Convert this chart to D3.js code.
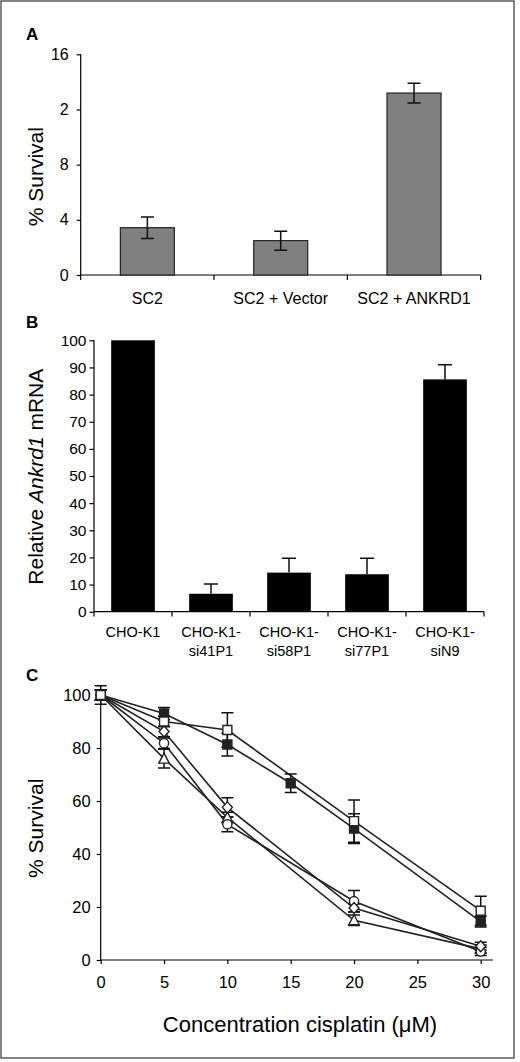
<!DOCTYPE html>
<html>
<head>
<meta charset="utf-8">
<style>
body { margin: 0; background: #fff; }
svg { display: block; font-family: "Liberation Sans", Arial, sans-serif; }
.axis path, .axis line { stroke: #000; stroke-width: 1.2; }
.axis text { fill: #000; }
</style>
</head>
<body>
<svg id="fig" width="520" height="1062"></svg>
<script src="https://d3js.org/d3.v7.min.js"></script>
<script>

// panel A
var survCats = ["SC2", "SC2 + Vector", "SC2 + ANKRD1"];
var survVals = [3.43, 2.49, 13.19];
var survErr = [0.78, 0.69, 0.72];
var survTicks = [0, 4, 8, 12, 16];
var survTickLabels = ["0", "4", "8", "2", "16"];

// panel B
var mrnaCats = ["CHO-K1", "CHO-K1-\nsi41P1", "CHO-K1-\nsi58P1", "CHO-K1-\nsi77P1", "CHO-K1-\nsiN9"];
var mrnaVals = [100, 6.6, 14.4, 13.8, 85.6];
var mrnaErr = [0, 3.6, 5.3, 5.9, 5.4];
var mrnaTicks = [0, 10, 20, 30, 40, 50, 60, 70, 80, 90, 100];

// panel C
var doses = [0, 5, 10, 15, 20, 30];
var doseTicks = [0, 5, 10, 15, 20, 25, 30];
var pctTicks = [0, 20, 40, 60, 80, 100];
var filledSq = [100, 93, 81.3, 66.7, 49.6, 14.5];
var filledSqErr = [2, 2.3, 4.3, 3.5, 5.6, 2];
var openSq = [100, 90, 86.8, null, 52.4, 18.6];
var openSqErr = [3.5, 2, 6.5, null, 8, 5.5];
var diamond = [100, 86.2, 57.6, null, 19.6, 5.2];
var diamondErr = [2, 2, 3.6, null, 1.5, 1.5];
var circle = [100, 81.8, 51.2, null, 22.2, 3.2];
var circleErr = [2, 2, 2.8, null, 4, 1.5];
var triangle = [100, 76, 53.8, null, 15, 4.2];
var triangleErr = [2, 3.5, 2, null, 2, 1.5];

var svg = d3.select("#fig");

svg.append("rect")
    .attr("x", 1).attr("y", 1)
    .attr("width", 513).attr("height", 1057)
    .attr("fill", "#fff")
    .attr("stroke", "#333")
    .attr("stroke-width", 1.2);

function panelLetter(t, y) {
  svg.append("text")
      .attr("x", 26).attr("y", y)
      .attr("font-size", 17)
      .attr("font-weight", "bold")
      .text(t);
}

function yTitle(cy, parts) {
  var t = svg.append("text")
      .attr("transform", "translate(43," + cy + ") rotate(-90)")
      .attr("text-anchor", "middle")
      .attr("font-size", 21);
  parts.forEach(function(p) {
    t.append("tspan").attr("font-style", p[1] ? "italic" : "normal").text(p[0]);
  });
}

// ---------- A ----------
panelLetter("A", 40);

var xA = d3.scaleBand().domain(survCats).range([80.7, 480.7]);
var yA = d3.scaleLinear().domain([0, 16]).range([275, 54.3]);

var gA = svg.append("g");

gA.append("g").attr("class", "axis")
    .attr("transform", "translate(80.7,0)")
    .call(d3.axisLeft(yA).tickValues(survTicks).tickSize(4).tickPadding(8)
      .tickFormat(function(d, i) { return survTickLabels[i]; }))
    .call(function(g) { g.selectAll("text").attr("font-size", 16); g.select(".domain").attr("d", "M0," + yA(16) + "V" + yA(0)); });

gA.append("g").attr("class", "axis")
    .attr("transform", "translate(0,275)")
    .call(d3.axisBottom(xA).tickSize(0).tickPadding(18))
    .call(function(g) { g.selectAll("text").attr("font-size", 16); g.select(".domain").attr("d", "M80.7,0H480.7"); });

gA.selectAll(".divA")
    .data(survCats.concat(["end"]))
    .enter().append("line")
    .attr("x1", function(d, i) { return xA.range()[0] + i * xA.step(); })
    .attr("x2", function(d, i) { return xA.range()[0] + i * xA.step(); })
    .attr("y1", 275).attr("y2", 280)
    .attr("stroke", "#000").attr("stroke-width", 1.2);

var bwA = xA.bandwidth() * 0.405;
gA.selectAll(".barA")
    .data(survVals)
    .enter().append("rect")
    .attr("x", function(d, i) { return xA(survCats[i]) + xA.bandwidth() / 2 - bwA / 2; })
    .attr("y", function(d) { return yA(d); })
    .attr("width", bwA)
    .attr("height", function(d) { return yA(0) - yA(d); })
    .attr("fill", "#808080")
    .attr("stroke", "#222")
    .attr("stroke-width", 1.2);

survVals.forEach(function(v, i) {
  var cx = xA(survCats[i]) + xA.bandwidth() / 2;
  var e = survErr[i];
  var p = "M" + cx + "," + yA(v + e) + "V" + yA(v - e) +
          "M" + (cx - 6.5) + "," + yA(v + e) + "h13" +
          "M" + (cx - 6.5) + "," + yA(v - e) + "h13";
  gA.append("path").attr("d", p).attr("stroke", "#111").attr("stroke-width", 1.5).attr("fill", "none");
});

yTitle(176.7, [["% Survival", false]]);

// ---------- B ----------
panelLetter("B", 328.3);

var xB = d3.scaleBand().domain(mrnaCats).range([94, 484]);
var yB = d3.scaleLinear().domain([0, 100]).range([611.7, 340.3]);

var gB = svg.append("g");

gB.append("g").attr("class", "axis")
    .attr("transform", "translate(94,0)")
    .call(d3.axisLeft(yB).tickValues(mrnaTicks).tickSize(4.5).tickPadding(3))
    .call(function(g) { g.selectAll("text").attr("font-size", 15.5); g.select(".domain").attr("d", "M0," + yB(100) + "V" + yB(0)); });

gB.append("path").attr("d", "M94,611.7H484").attr("stroke", "#000").attr("stroke-width", 1.2);

gB.selectAll(".divB")
    .data(mrnaCats.concat(["end"]))
    .enter().append("line")
    .attr("x1", function(d, i) { return xB.range()[0] + i * xB.step(); })
    .attr("x2", function(d, i) { return xB.range()[0] + i * xB.step(); })
    .attr("y1", 611.7).attr("y2", 616.5)
    .attr("stroke", "#000").attr("stroke-width", 1.2);

mrnaCats.forEach(function(c) {
  var lines = c.split("\n");
  var t = gB.append("text")
      .attr("x", xB(c) + xB.bandwidth() / 2)
      .attr("y", 637.3)
      .attr("text-anchor", "middle")
      .attr("font-size", 14.5);
  lines.forEach(function(l, j) {
    t.append("tspan").attr("x", xB(c) + xB.bandwidth() / 2).attr("dy", j === 0 ? 0 : 19).text(l);
  });
});

var bwB = xB.bandwidth() * 0.56;
gB.selectAll(".barB")
    .data(mrnaVals)
    .enter().append("rect")
    .attr("x", function(d, i) { return xB(mrnaCats[i]) + xB.bandwidth() / 2 - bwB / 2; })
    .attr("y", function(d) { return yB(d); })
    .attr("width", bwB)
    .attr("height", function(d) { return yB(0) - yB(d); })
    .attr("fill", "#000");

mrnaVals.forEach(function(v, i) {
  if (!mrnaErr[i]) return;
  var cx = xB(mrnaCats[i]) + xB.bandwidth() / 2;
  var top = yB(v + mrnaErr[i]);
  var p = "M" + cx + "," + top + "V" + yB(v) + "M" + (cx - 7) + "," + top + "h14";
  gB.append("path").attr("d", p).attr("stroke", "#111").attr("stroke-width", 1.5).attr("fill", "none");
});

yTitle(476.7, [["Relative ", false], ["Ankrd1", true], [" mRNA", false]]);

// ---------- C ----------
panelLetter("C", 680.7);

var xC = d3.scaleLinear().domain([0, 30]).range([100.7, 480.7]);
var yC = d3.scaleLinear().domain([0, 100]).range([960, 695]);

var gC = svg.append("g");

gC.append("g").attr("class", "axis")
    .attr("transform", "translate(100.7,0)")
    .call(d3.axisLeft(yC).tickValues(pctTicks).tickSize(4).tickPadding(6))
    .call(function(g) { g.selectAll("text").attr("font-size", 16.5); g.select(".domain").attr("d", "M0," + yC(100) + "V" + yC(0)); });

gC.append("g").attr("class", "axis")
    .attr("transform", "translate(0,960)")
    .call(d3.axisBottom(xC).tickValues(doseTicks).tickSize(4).tickPadding(12))
    .call(function(g) { g.selectAll("text").attr("font-size", 16.5); g.select(".domain").attr("d", "M100.7,0H493"); });

svg.append("text")
    .attr("x", 300).attr("y", 1031.7)
    .attr("text-anchor", "middle")
    .attr("font-size", 22)
    .text("Concentration cisplatin (\u03BCM)");

yTitle(828.3, [["% Survival", false]]);

var shapes = {
  sq: function(s) { return "M-4.5,-4.5h9v9h-9Z"; },
  dia: function(s) { return "M0,-5.5L5,0L0,5.5L-5,0Z"; },
  tri: function(s) { return "M0,-5.5L5.2,4.5H-5.2Z"; },
  circ: function(s) { return "M4.6,0A4.6,4.6 0 1,1 -4.6,0A4.6,4.6 0 1,1 4.6,0Z"; }
};

var series = [
  { vals: triangle, err: triangleErr, shape: "tri", fill: "#fff" },
  { vals: circle, err: circleErr, shape: "circ", fill: "#fff" },
  { vals: diamond, err: diamondErr, shape: "dia", fill: "#fff" },
  { vals: filledSq, err: filledSqErr, shape: "sq", fill: "#222" },
  { vals: openSq, err: openSqErr, shape: "sq", fill: "#fff" }
];

var line = d3.line()
    .defined(function(d) { return d[1] != null; })
    .x(function(d) { return xC(d[0]); })
    .y(function(d) { return yC(d[1]); });

series.forEach(function(s) {
  var pts = doses.map(function(d, i) { return [d, s.vals[i], s.err[i]]; })
                 .filter(function(p) { return p[1] != null; });
  gC.append("path")
      .attr("d", line(pts))
      .attr("fill", "none")
      .attr("stroke", "#222")
      .attr("stroke-width", 1.6);
  s.pts = pts;
});

series.forEach(function(s) {
  s.pts.forEach(function(p) {
    var cx = xC(p[0]), t = yC(p[1] + p[2]), b = yC(p[1] - p[2]);
    gC.append("path")
        .attr("d", "M" + cx + "," + t + "V" + b + "M" + (cx - 6) + "," + t + "h12M" + (cx - 6) + "," + b + "h12")
        .attr("stroke", "#111").attr("stroke-width", 1.5).attr("fill", "none");
  });
});

series.forEach(function(s) {
  gC.selectAll(null)
      .data(s.pts)
      .enter().append("path")
      .attr("transform", function(p) { return "translate(" + xC(p[0]) + "," + yC(p[1]) + ")"; })
      .attr("d", shapes[s.shape]())
      .attr("fill", s.fill)
      .attr("stroke", "#222")
      .attr("stroke-width", 1.4);
});

</script>
</body>
</html>
